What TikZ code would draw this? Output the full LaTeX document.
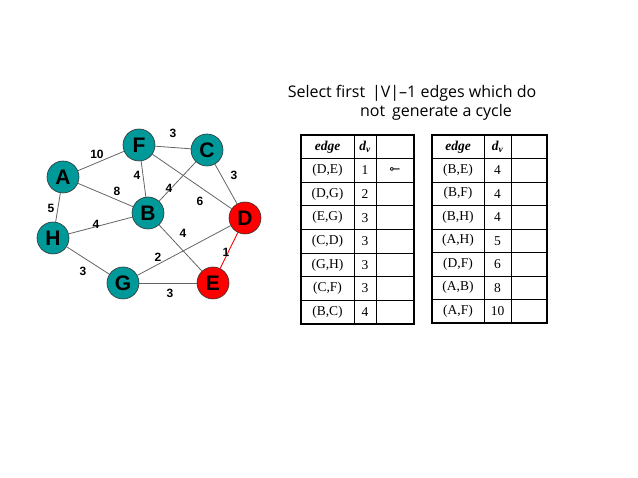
\documentclass[tikz,border=0pt]{standalone}
\usepackage{fontspec}
\usepackage{graphicx}
\setmainfont{Liberation Serif}
\setsansfont{Liberation Sans}
\newfontfamily\titlefont{Open Sans}
\newfontfamily\symfont{DejaVu Sans}
\definecolor{teal0}{RGB}{0,153,153}
\definecolor{edgegray}{RGB}{100,100,100}
\begin{document}
\begin{tikzpicture}[x=1pt,y=-1pt,
  vtx/.style={circle,draw=black!80,line width=0.6pt,fill=teal0,minimum size=32pt,inner sep=0pt,font=\sffamily\bfseries\fontsize{21}{21}\selectfont},
  redvtx/.style={vtx,fill=red},
  gedge/.style={draw=edgegray,line width=0.8pt},
  wlab/.style={font=\sffamily\bfseries\fontsize{12}{12}\selectfont,inner sep=0pt},
  cell/.style={font=\fontsize{13.5}{13.5}\selectfont,inner sep=0pt},
  hcell/.style={font=\bfseries\itshape\fontsize{13.5}{13.5}\selectfont,inner sep=0pt},
  tline/.style={draw=black,line width=0.6pt},
  tbox/.style={draw=black,line width=1.4pt}
]
\useasboundingbox (0,0) rectangle (638,478);
% vertices
\node[vtx] (F) at (139,145) {F};
\node[vtx] (C) at (207,150) {C};
\node[vtx] (A) at (63,177) {A};
\node[vtx] (B) at (148,213) {B};
\node[redvtx] (D) at (245,218) {D};
\node[vtx] (H) at (53,238) {H};
\node[vtx] (G) at (123,283) {G};
\node[redvtx] (E) at (213,283) {E};
% edges
\draw[gedge] (F) -- (C);
\draw[gedge] (A) -- (F);
\draw[gedge] (F) -- (B);
\draw[gedge] (C) -- (B);
\draw[gedge] (A) -- (B);
\draw[gedge] (F) -- (D);
\draw[gedge] (C) -- (D);
\draw[gedge] (A) -- (H);
\draw[gedge] (H) -- (B);
\draw[gedge] (B) -- (E);
\draw[gedge] (D) -- (G);
\draw[draw=red,line width=0.9pt] (D) -- (E);
\draw[gedge] (H) -- (G);
\draw[gedge] (G) -- (E);
% weights
\node[wlab] (wFC) at (173,133) {3};
\node[wlab] (wAF) at (97,154) {10};
\node[wlab] (wFB) at (137,175) {4};
\node[wlab] (wCB) at (169,188) {4};
\node[wlab] (wAB) at (117,191) {8};
\node[wlab] (wFD) at (200,201) {6};
\node[wlab] (wCD) at (234,175) {3};
\node[wlab] (wAH) at (51,208) {5};
\node[wlab] (wHB) at (96,224) {4};
\node[wlab] (wBE) at (183,233) {4};
\node[wlab] (wDG) at (158,257) {2};
\node[wlab] (wDE) at (226,252) {1};
\node[wlab] (wHG) at (83,271) {3};
\node[wlab] (wGE) at (170,293) {3};
% title
\node[font=\titlefont\fontsize{16}{16}\selectfont,inner sep=0pt] (t1) at (412,93) {Select first \,|V|–1 edges which do};
\node[font=\titlefont\fontsize{16}{16}\selectfont,inner sep=0pt] (t2) at (436,112) {not \,generate a cycle};
% left table
\foreach \i in {1,...,7} {\draw[tline] (301,{135+\i*23.6}) -- (414,{135+\i*23.6});}
\draw[tline] (354,135) -- (354,324);
\draw[tline] (376,135) -- (376,324);
\draw[tbox] (301,135) rectangle (414,324);
\node[hcell] (L0a) at (327.5,147) {edge};
\node[hcell] (L0b) at (365,147) {d\textsubscript{v}};
\foreach \e/\d [count=\i] in {(D,E)/1,(D,G)/2,(E,G)/3,(C,D)/3,(G,H)/3,(C,F)/3,(B,C)/4} {
  \node[cell] at (327.5,{135+\i*23.6+11.8}) {\e};
  \node[cell] at (365,{135+\i*23.6+11.8}) {\d};
}
\node[font=\symfont\fontsize{13}{13}\selectfont,inner sep=0pt] (chk) at (395,171) {\reflectbox{⊸}};
% right table
\foreach \i in {1,...,7} {\draw[tline] (432,{135+\i*23.5}) -- (547,{135+\i*23.5});}
\draw[tline] (484,135) -- (484,323);
\draw[tline] (511,135) -- (511,323);
\draw[tbox] (432,135) rectangle (547,323);
\node[hcell] (R0a) at (458,147) {edge};
\node[hcell] (R0b) at (497.5,147) {d\textsubscript{v}};
\foreach \e/\d [count=\i] in {(B,E)/4,(B,F)/4,(B,H)/4,(A,H)/5,(D,F)/6,(A,B)/8,(A,F)/10} {
  \node[cell] at (458,{135+\i*23.5+11.75}) {\e};
  \node[cell] at (497.5,{135+\i*23.5+11.75}) {\d};
}
\end{tikzpicture}
\end{document}
